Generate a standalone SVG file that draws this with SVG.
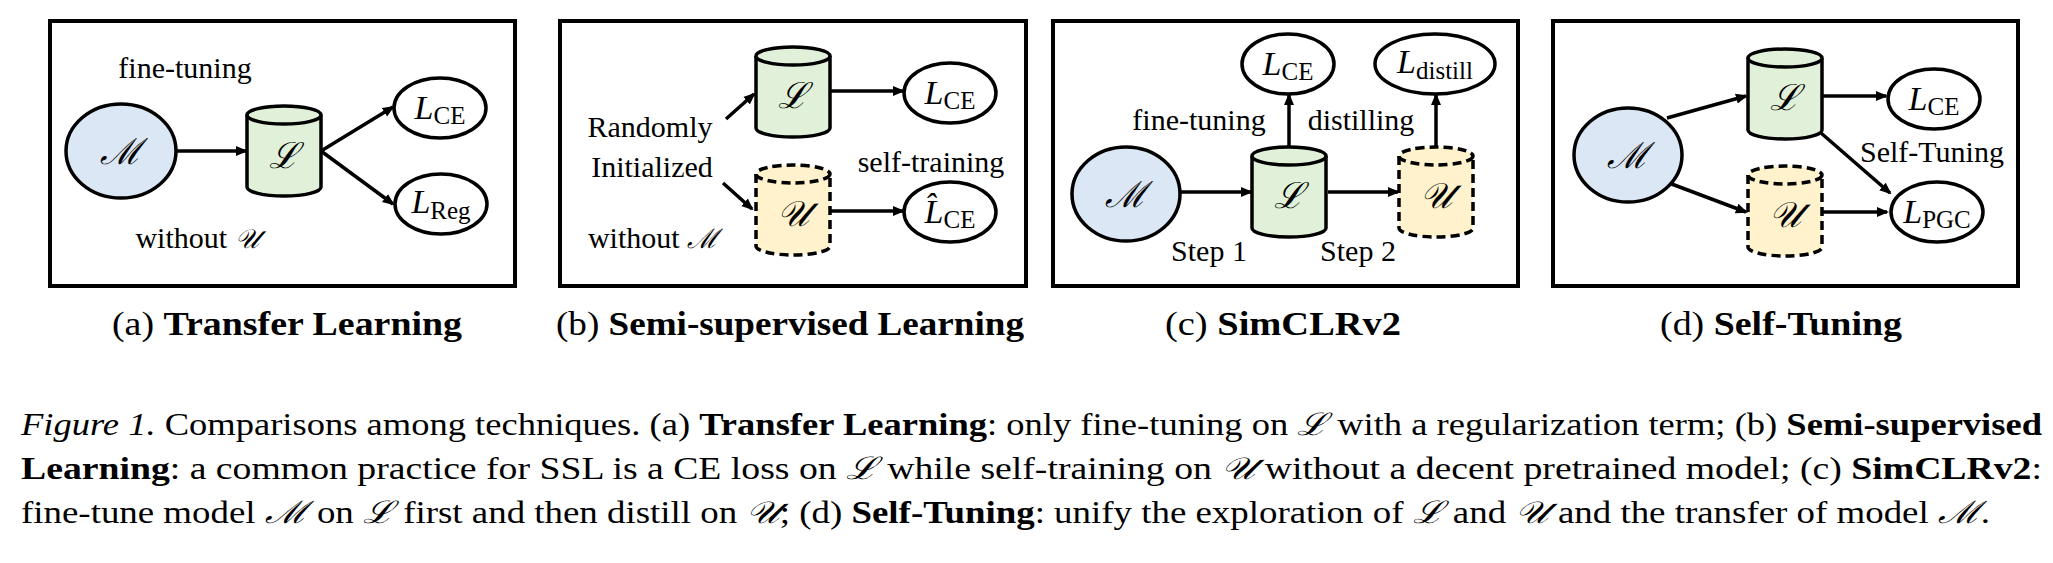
<svg xmlns="http://www.w3.org/2000/svg" width="2053" height="563" viewBox="0 0 2053 563">
<style>
text{font-family:"Liberation Serif","DejaVu Serif",serif;fill:#000}
.panel{fill:#fff;stroke:#000;stroke-width:4}
.m{fill:#dbe7f4;stroke:#000;stroke-width:3.5}
.loss{fill:#fff;stroke:#000;stroke-width:3.5}
.cl{fill:#e0f0d9;stroke:#000;stroke-width:3.5}
.cu{fill:#fff2cc;stroke:#000;stroke-width:3.5;stroke-dasharray:9 5}
.lab{font-size:30px}
.sym{font-size:36px;font-style:italic;font-family:"DejaVu Serif","Liberation Serif",serif}
.li{font-size:34px;font-style:italic}
.sub{font-size:25px;font-style:normal}
.cap{font-size:34px}
.fig{font-size:31px}
.con line{stroke:#000;stroke-width:3.5;marker-end:url(#ah)}
</style>
<defs>
<marker id="ah" markerWidth="12" markerHeight="12" refX="10" refY="6" orient="auto" markerUnits="userSpaceOnUse" viewBox="0 0 12 12"><path d="M0,1 L12,6 L0,11 z" fill="#000"/></marker>
<g id="cylL"><path class="cl" d="M0,9 V81 A37,9 0 0 0 74,81 V9"/><ellipse class="cl" cx="37" cy="9" rx="37" ry="9" fill="#eef7ea"/></g>
<g id="cylU"><path class="cu" d="M0,9 V81 A37,9 0 0 0 74,81 V9"/><ellipse class="cu" cx="37" cy="9" rx="37" ry="9" fill="#fff7e0"/></g>
</defs>
<rect x="0" y="0" width="2053" height="563" fill="#fff"/>
<!-- panels -->
<rect class="panel" x="50" y="21" width="465" height="265"/>
<rect class="panel" x="560" y="21" width="466" height="265"/>
<rect class="panel" x="1053" y="21" width="465" height="265"/>
<rect class="panel" x="1553" y="21" width="465" height="265"/>

<!-- connectors -->
<g class="con">
<line x1="177" y1="151" x2="246" y2="151"/>
<line x1="321" y1="151" x2="393" y2="107"/>
<line x1="321" y1="151" x2="393" y2="204"/>
<line x1="726" y1="119" x2="754" y2="94"/>
<line x1="723" y1="183" x2="752" y2="209"/>
<line x1="830" y1="91" x2="903" y2="91"/>
<line x1="830" y1="211" x2="903" y2="211"/>
<line x1="1181" y1="192" x2="1251" y2="192"/>
<line x1="1328" y1="192" x2="1398" y2="192"/>
<line x1="1289" y1="146" x2="1289" y2="95"/>
<line x1="1436" y1="148" x2="1436" y2="95"/>
<line x1="1667" y1="118" x2="1746" y2="96"/>
<line x1="1669" y1="183" x2="1746" y2="212"/>
<line x1="1821" y1="96" x2="1886" y2="96"/>
<line x1="1821" y1="212" x2="1887" y2="212"/>
<line x1="1821" y1="133" x2="1890" y2="193"/>
</g>

<!-- panel a -->
<g id="a-M"><ellipse class="m" cx="121" cy="151" rx="55" ry="47"/><text class="sym" x="121" y="164" text-anchor="middle">ℳ</text></g>
<g id="a-L"><use href="#cylL" x="247" y="106"/><text class="sym" x="284" y="168" text-anchor="middle">ℒ</text></g>
<g id="a-LCE"><ellipse class="loss" cx="440" cy="108" rx="46" ry="30"/><text class="li" x="440" y="119" text-anchor="middle">L<tspan class="sub" dy="5">CE</tspan></text></g>
<g id="a-LReg"><ellipse class="loss" cx="441" cy="204" rx="46" ry="30"/><text class="li" x="441" y="213" text-anchor="middle">L<tspan class="sub" dy="6">Reg</tspan></text></g>
<text class="lab" x="185" y="78" text-anchor="middle">fine-tuning</text>
<text class="lab" x="197" y="248" text-anchor="middle">without <tspan font-style="italic" font-family="DejaVu Serif" font-size="27">𝒰</tspan></text>

<!-- panel b -->
<g id="b-L"><use href="#cylL" x="756" y="47"/><text class="sym" x="793" y="108" text-anchor="middle">ℒ</text></g>
<g id="b-U"><use href="#cylU" x="756" y="165"/><text class="sym" x="793" y="226" text-anchor="middle">𝒰</text></g>
<g id="b-LCE"><ellipse class="loss" cx="950" cy="93" rx="46" ry="30"/><text class="li" x="950" y="104" text-anchor="middle">L<tspan class="sub" dy="5">CE</tspan></text></g>
<g id="b-LhCE"><ellipse class="loss" cx="950" cy="212" rx="46" ry="30"/><text class="li" x="950" y="223" text-anchor="middle">L̂<tspan class="sub" dy="5">CE</tspan></text></g>
<text class="lab" x="650" y="137" text-anchor="middle">Randomly</text>
<text class="lab" x="652" y="177" text-anchor="middle">Initialized</text>
<text class="lab" x="931" y="172" text-anchor="middle">self-training</text>
<text class="lab" x="653" y="248" text-anchor="middle">without <tspan font-style="italic" font-family="DejaVu Serif" font-size="27">ℳ</tspan></text>

<!-- panel c -->
<g id="c-M"><ellipse class="m" cx="1126" cy="194" rx="54" ry="47"/><text class="sym" x="1126" y="207" text-anchor="middle">ℳ</text></g>
<g id="c-L"><use href="#cylL" x="1252" y="147"/><text class="sym" x="1289" y="208" text-anchor="middle">ℒ</text></g>
<g id="c-U"><use href="#cylU" x="1399" y="147"/><text class="sym" x="1436" y="208" text-anchor="middle">𝒰</text></g>
<g id="c-LCE"><ellipse class="loss" cx="1288" cy="64" rx="46" ry="30"/><text class="li" x="1288" y="75" text-anchor="middle">L<tspan class="sub" dy="5">CE</tspan></text></g>
<g id="c-Ldistill"><ellipse class="loss" cx="1435" cy="64" rx="60" ry="30"/><text class="li" x="1435" y="73" text-anchor="middle">L<tspan class="sub" dy="6">distill</tspan></text></g>
<text class="lab" x="1199" y="130" text-anchor="middle">fine-tuning</text>
<text class="lab" x="1361" y="130" text-anchor="middle">distilling</text>
<text class="lab" x="1209" y="261" text-anchor="middle">Step 1</text>
<text class="lab" x="1358" y="261" text-anchor="middle">Step 2</text>

<!-- panel d -->
<g id="d-M"><ellipse class="m" cx="1628" cy="155" rx="54" ry="47"/><text class="sym" x="1628" y="168" text-anchor="middle">ℳ</text></g>
<g id="d-L"><use href="#cylL" x="1748" y="49"/><text class="sym" x="1785" y="110" text-anchor="middle">ℒ</text></g>
<g id="d-U"><use href="#cylU" x="1748" y="166"/><text class="sym" x="1785" y="227" text-anchor="middle">𝒰</text></g>
<g id="d-LCE"><ellipse class="loss" cx="1934" cy="99" rx="46" ry="30"/><text class="li" x="1934" y="110" text-anchor="middle">L<tspan class="sub" dy="5">CE</tspan></text></g>
<g id="d-LPGC"><ellipse class="loss" cx="1937" cy="212" rx="46" ry="30"/><text class="li" x="1937" y="223" text-anchor="middle">L<tspan class="sub" dy="5">PGC</tspan></text></g>
<text class="lab" x="1932" y="162" text-anchor="middle">Self-Tuning</text>

<!-- captions -->
<text class="cap" x="112" y="335" textLength="350" lengthAdjust="spacingAndGlyphs">(a)  <tspan font-weight="bold">Transfer Learning</tspan></text>
<text class="cap" x="556" y="335" textLength="468" lengthAdjust="spacingAndGlyphs">(b)  <tspan font-weight="bold">Semi-supervised Learning</tspan></text>
<text class="cap" x="1165" y="335" textLength="236" lengthAdjust="spacingAndGlyphs">(c)  <tspan font-weight="bold">SimCLRv2</tspan></text>
<text class="cap" x="1660" y="335" textLength="242" lengthAdjust="spacingAndGlyphs">(d)  <tspan font-weight="bold">Self-Tuning</tspan></text>

<text class="fig" x="21" y="435" textLength="2021" lengthAdjust="spacingAndGlyphs"><tspan font-style="italic">Figure 1.</tspan> Comparisons among techniques. (a) <tspan font-weight="bold">Transfer Learning</tspan>: only fine-tuning on <tspan font-style="italic">ℒ</tspan> with a regularization term; (b) <tspan font-weight="bold">Semi-supervised</tspan></text>
<text class="fig" x="21" y="479" textLength="2021" lengthAdjust="spacingAndGlyphs"><tspan font-weight="bold">Learning</tspan>: a common practice for SSL is a CE loss on <tspan font-style="italic">ℒ</tspan> while self-training on <tspan font-style="italic">𝒰</tspan> without a decent pretrained model; (c) <tspan font-weight="bold">SimCLRv2</tspan>:</text>
<text class="fig" x="21" y="523" textLength="1969" lengthAdjust="spacingAndGlyphs">fine-tune model <tspan font-style="italic">ℳ</tspan> on <tspan font-style="italic">ℒ</tspan> first and then distill on <tspan font-style="italic">𝒰</tspan>; (d) <tspan font-weight="bold">Self-Tuning</tspan>: unify the exploration of <tspan font-style="italic">ℒ</tspan> and <tspan font-style="italic">𝒰</tspan> and the transfer of model <tspan font-style="italic">ℳ</tspan>.</text>
</svg>
